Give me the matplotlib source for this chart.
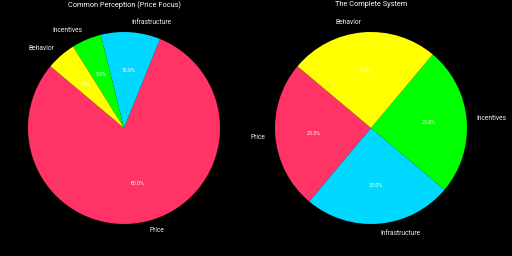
import matplotlib.pyplot as plt

# Data
labels = ["Price", "Infrastructure", "Incentives", "Behavior"]
perception = [80, 10, 5, 5]
complete = [25, 25, 25, 25]
colors = ["#FF3366", "#00D9FF", "#00FF00", "#FFFF00"]

plt.rcParams['font.family'] = ['Roboto', 'DejaVu Sans']

fig = plt.figure(figsize=(5.12, 2.56), dpi=100, facecolor="black")

# Left pie
ax1 = fig.add_axes([4 / 512, 8 / 256, 240 / 512, 240 / 256])
ax1.set_facecolor("black")
ax1.pie(perception, labels=labels, colors=colors, startangle=140,
        autopct="%1.1f%%", textprops={"color": "#EEEEEE", "fontsize": 4.8},
        wedgeprops={"linewidth": 0})
for t in ax1.texts:
    if "%" in t.get_text():
        t.set_fontsize(3.8)
        t.set_color("white")
ax1.set_xlim(-1.25, 1.25)
ax1.set_ylim(-1.25, 1.25)
ax1.set_aspect("equal")

# Right pie
ax2 = fig.add_axes([251 / 512, 8 / 256, 240 / 512, 240 / 256])
ax2.set_facecolor("black")
ax2.pie(complete, labels=labels, colors=colors, startangle=140,
        autopct="%1.1f%%", textprops={"color": "#EEEEEE", "fontsize": 4.8},
        wedgeprops={"linewidth": 0})
for t in ax2.texts:
    if "%" in t.get_text():
        t.set_fontsize(3.8)
        t.set_color("white")
ax2.set_xlim(-1.25, 1.25)
ax2.set_ylim(-1.25, 1.25)
ax2.set_aspect("equal")

# Titles
fig.text(124 / 512, 251 / 256, "Common Perception (Price Focus)", color="white",
         fontsize=5.3, ha="center", va="center")
fig.text(371 / 512, 251 / 256, "The Complete System", color="white",
         fontsize=5.3, ha="center", va="center")

plt.savefig("out.png", dpi=100, facecolor="black")
